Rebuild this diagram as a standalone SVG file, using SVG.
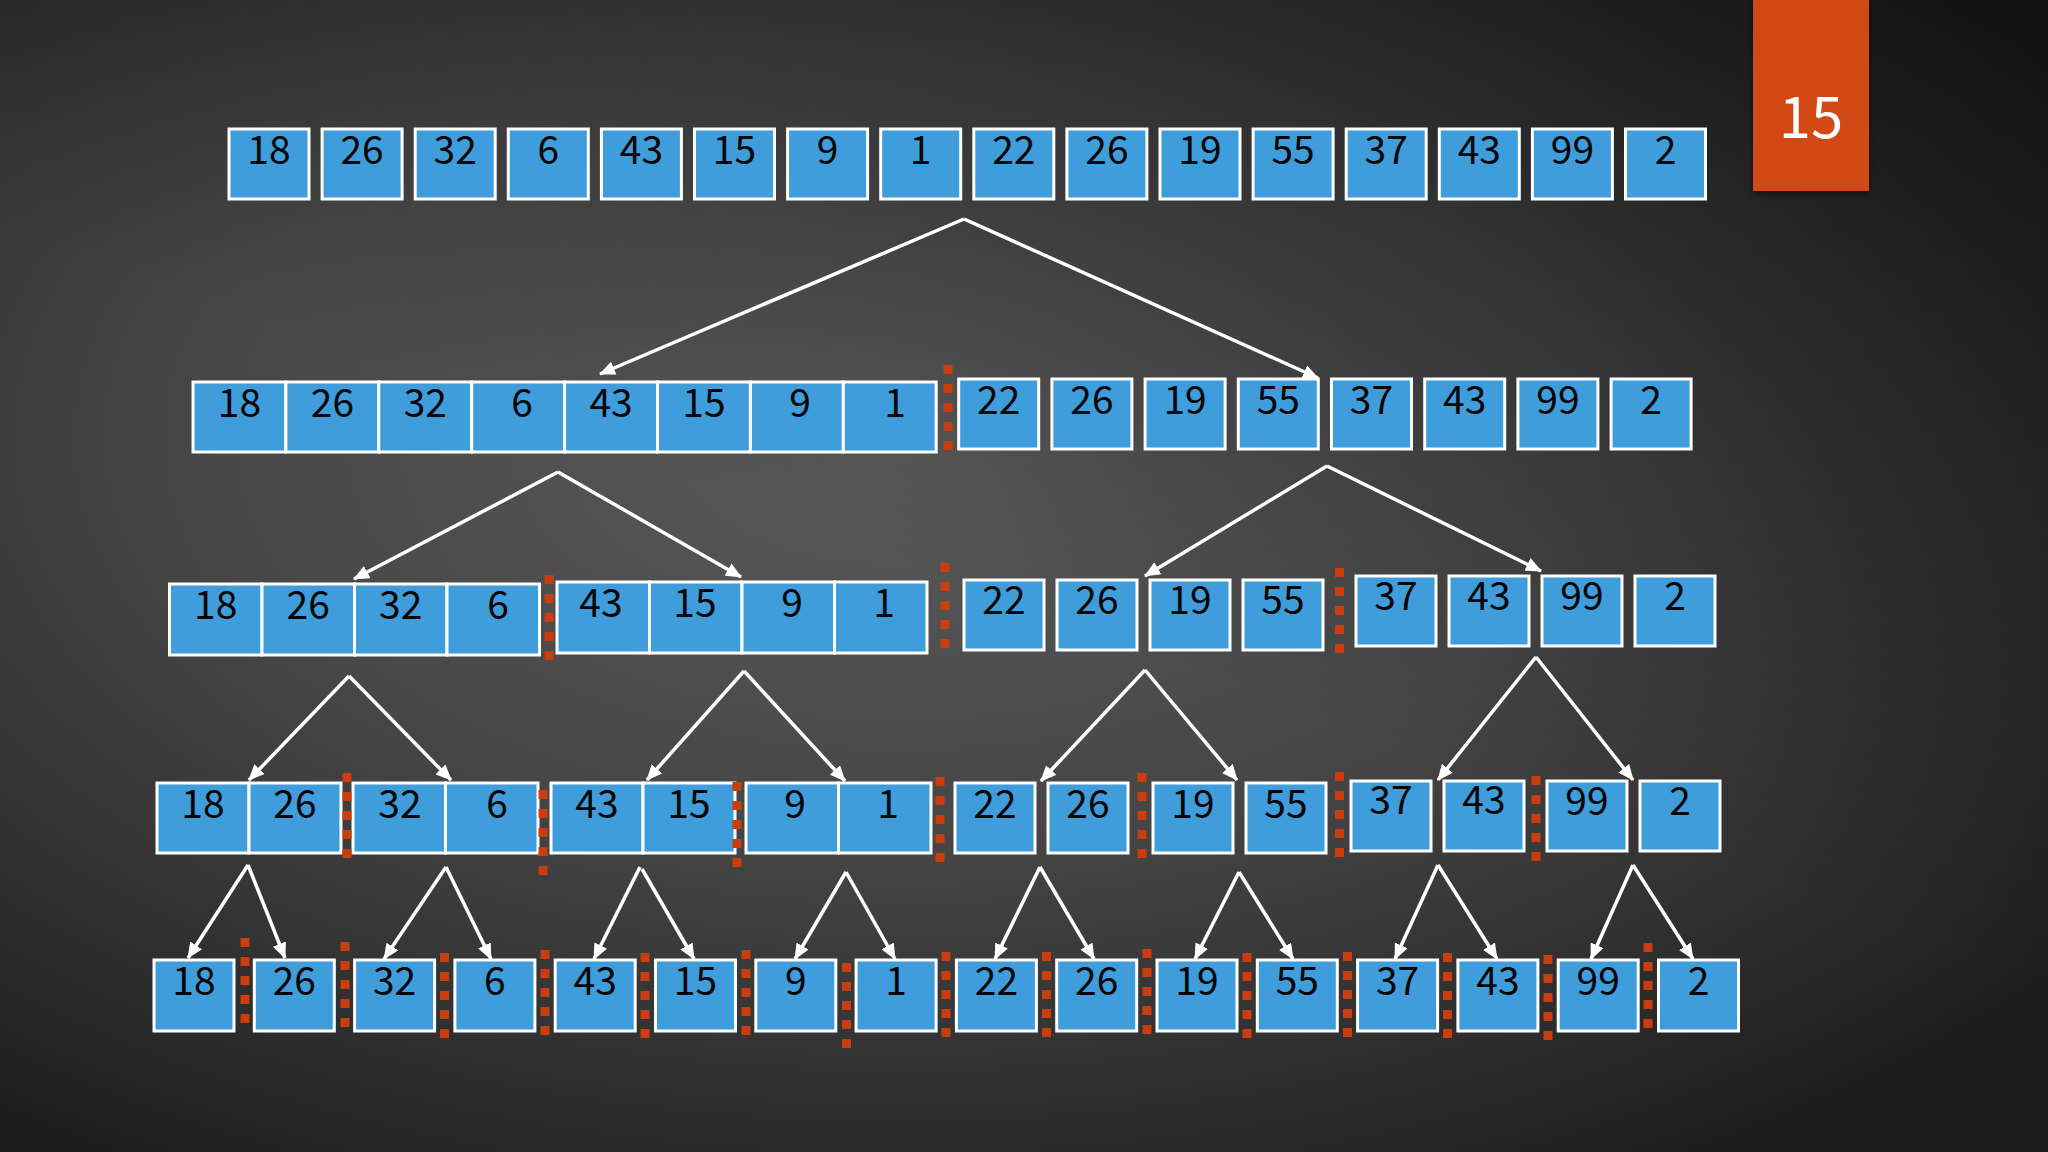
<svg xmlns="http://www.w3.org/2000/svg" width="2048" height="1152" viewBox="0 0 2048 1152">
<defs>
<radialGradient id="bg" cx="0.44" cy="0.38" r="0.75">
<stop offset="0" stop-color="#5b5a5a"/>
<stop offset="0.45" stop-color="#474747"/>
<stop offset="0.8" stop-color="#2c2c2c"/>
<stop offset="1" stop-color="#1b1b1b"/>
</radialGradient>
<linearGradient id="tr" x1="0.6" y1="0.6" x2="1" y2="0">
<stop offset="0" stop-color="#000" stop-opacity="0"/>
<stop offset="1" stop-color="#000" stop-opacity="0.55"/>
</linearGradient>
<marker id="ah" viewBox="0 0 16 14" refX="15" refY="7" markerWidth="16" markerHeight="14" markerUnits="userSpaceOnUse" orient="auto">
<path d="M0,0 L16,7 L0,14 Z" fill="#ffffff"/>
</marker>
<filter id="sh" x="-10%" y="-10%" width="120%" height="120%">
<feDropShadow dx="0" dy="3" stdDeviation="3" flood-color="#000" flood-opacity="0.5"/>
</filter>
</defs>
<style>
.b{fill:#3f9ddc;stroke:#ffffff;stroke-width:3}
.t{font-family:"Noto Sans CJK SC","Noto Sans","Liberation Sans",sans-serif;font-size:39px;fill:#050505;text-anchor:middle}
.a{stroke:#ffffff;stroke-width:3.5;fill:none;marker-end:url(#ah)}
.s{stroke:#c93d0f;stroke-width:9;stroke-dasharray:9 10}
</style>
<rect width="2048" height="1152" fill="url(#bg)"/>
<rect width="2048" height="1152" fill="url(#tr)"/>

<g id="slide-number">
<rect x="1753" y="0" width="116" height="191" fill="#d24a19" filter="url(#sh)"/>
<text x="1811" y="138" font-family="'Noto Sans CJK SC','Noto Sans','Liberation Sans',sans-serif" font-size="58" fill="#ffffff" text-anchor="middle">15</text>
</g>

<!-- Row 1 -->
<g id="r1-0"><rect class="b" x="229" y="129" width="80" height="70"/><text class="t" x="269" y="164">18</text></g>
<g id="r1-1"><rect class="b" x="322.1" y="129" width="80" height="70"/><text class="t" x="362.1" y="164">26</text></g>
<g id="r1-2"><rect class="b" x="415.2" y="129" width="80" height="70"/><text class="t" x="455.2" y="164">32</text></g>
<g id="r1-3"><rect class="b" x="508.3" y="129" width="80" height="70"/><text class="t" x="548.3" y="164">6</text></g>
<g id="r1-4"><rect class="b" x="601.4" y="129" width="80" height="70"/><text class="t" x="641.4" y="164">43</text></g>
<g id="r1-5"><rect class="b" x="694.5" y="129" width="80" height="70"/><text class="t" x="734.5" y="164">15</text></g>
<g id="r1-6"><rect class="b" x="787.6" y="129" width="80" height="70"/><text class="t" x="827.6" y="164">9</text></g>
<g id="r1-7"><rect class="b" x="880.7" y="129" width="80" height="70"/><text class="t" x="920.7" y="164">1</text></g>
<g id="r1-8"><rect class="b" x="973.8" y="129" width="80" height="70"/><text class="t" x="1013.8" y="164">22</text></g>
<g id="r1-9"><rect class="b" x="1066.9" y="129" width="80" height="70"/><text class="t" x="1106.9" y="164">26</text></g>
<g id="r1-10"><rect class="b" x="1160" y="129" width="80" height="70"/><text class="t" x="1200" y="164">19</text></g>
<g id="r1-11"><rect class="b" x="1253.1" y="129" width="80" height="70"/><text class="t" x="1293.1" y="164">55</text></g>
<g id="r1-12"><rect class="b" x="1346.2" y="129" width="80" height="70"/><text class="t" x="1386.2" y="164">37</text></g>
<g id="r1-13"><rect class="b" x="1439.3" y="129" width="80" height="70"/><text class="t" x="1479.3" y="164">43</text></g>
<g id="r1-14"><rect class="b" x="1532.4" y="129" width="80" height="70"/><text class="t" x="1572.4" y="164">99</text></g>
<g id="r1-15"><rect class="b" x="1625.5" y="129" width="80" height="70"/><text class="t" x="1665.5" y="164">2</text></g>

<!-- Row 2 -->
<g id="r2-0"><rect class="b" x="193" y="382" width="92.9" height="70"/><text class="t" x="239.5" y="417">18</text></g>
<g id="r2-1"><rect class="b" x="285.9" y="382" width="92.9" height="70"/><text class="t" x="332.4" y="417">26</text></g>
<g id="r2-2"><rect class="b" x="378.8" y="382" width="92.9" height="70"/><text class="t" x="425.3" y="417">32</text></g>
<g id="r2-3"><rect class="b" x="471.7" y="382" width="92.9" height="70"/><text class="t" x="522" y="417">6</text></g>
<g id="r2-4"><rect class="b" x="564.6" y="382" width="92.9" height="70"/><text class="t" x="611.1" y="417">43</text></g>
<g id="r2-5"><rect class="b" x="657.5" y="382" width="92.9" height="70"/><text class="t" x="704" y="417">15</text></g>
<g id="r2-6"><rect class="b" x="750.4" y="382" width="92.9" height="70"/><text class="t" x="800" y="417">9</text></g>
<g id="r2-7"><rect class="b" x="843.3" y="382" width="92.9" height="70"/><text class="t" x="895" y="417">1</text></g>
<g id="r2-8"><rect class="b" x="958.7" y="379" width="80" height="70"/><text class="t" x="998.7" y="414">22</text></g>
<g id="r2-9"><rect class="b" x="1051.9" y="379" width="80" height="70"/><text class="t" x="1091.9" y="414">26</text></g>
<g id="r2-10"><rect class="b" x="1145.1" y="379" width="80" height="70"/><text class="t" x="1185.1" y="414">19</text></g>
<g id="r2-11"><rect class="b" x="1238.3" y="379" width="80" height="70"/><text class="t" x="1278.3" y="414">55</text></g>
<g id="r2-12"><rect class="b" x="1331.5" y="379" width="80" height="70"/><text class="t" x="1371.5" y="414">37</text></g>
<g id="r2-13"><rect class="b" x="1424.7" y="379" width="80" height="70"/><text class="t" x="1464.7" y="414">43</text></g>
<g id="r2-14"><rect class="b" x="1517.9" y="379" width="80" height="70"/><text class="t" x="1557.9" y="414">99</text></g>
<g id="r2-15"><rect class="b" x="1611.1" y="379" width="80" height="70"/><text class="t" x="1651.1" y="414">2</text></g>

<!-- Row 3 -->
<g id="r3-0"><rect class="b" x="169.5" y="584" width="92.5" height="71"/><text class="t" x="215.7" y="619">18</text></g>
<g id="r3-1"><rect class="b" x="262" y="584" width="92.5" height="71"/><text class="t" x="308.2" y="619">26</text></g>
<g id="r3-2"><rect class="b" x="354.5" y="584" width="92.5" height="71"/><text class="t" x="400.7" y="619">32</text></g>
<g id="r3-3"><rect class="b" x="447" y="584" width="92.5" height="71"/><text class="t" x="498" y="619">6</text></g>
<g id="r3-4"><rect class="b" x="557" y="582" width="92.5" height="71"/><text class="t" x="601" y="617">43</text></g>
<g id="r3-5"><rect class="b" x="649.5" y="582" width="92.5" height="71"/><text class="t" x="695" y="617">15</text></g>
<g id="r3-6"><rect class="b" x="742" y="582" width="92.5" height="71"/><text class="t" x="792" y="617">9</text></g>
<g id="r3-7"><rect class="b" x="834.5" y="582" width="92.5" height="71"/><text class="t" x="884" y="617">1</text></g>
<g id="r3-8"><rect class="b" x="964" y="580" width="80" height="70"/><text class="t" x="1004" y="614">22</text></g>
<g id="r3-9"><rect class="b" x="1057" y="580" width="80" height="70"/><text class="t" x="1097" y="614">26</text></g>
<g id="r3-10"><rect class="b" x="1150" y="580" width="80" height="70"/><text class="t" x="1190" y="614">19</text></g>
<g id="r3-11"><rect class="b" x="1243" y="580" width="80" height="70"/><text class="t" x="1283" y="614">55</text></g>
<g id="r3-12"><rect class="b" x="1356" y="576" width="80" height="70"/><text class="t" x="1396" y="610">37</text></g>
<g id="r3-13"><rect class="b" x="1449" y="576" width="80" height="70"/><text class="t" x="1489" y="610">43</text></g>
<g id="r3-14"><rect class="b" x="1542" y="576" width="80" height="70"/><text class="t" x="1582" y="610">99</text></g>
<g id="r3-15"><rect class="b" x="1635" y="576" width="80" height="70"/><text class="t" x="1675" y="610">2</text></g>

<!-- Row 4 -->
<g id="r4-0"><rect class="b" x="157" y="783" width="92" height="70"/><text class="t" x="203" y="818">18</text></g>
<g id="r4-1"><rect class="b" x="249" y="783" width="92" height="70"/><text class="t" x="295" y="818">26</text></g>
<g id="r4-2"><rect class="b" x="353" y="783" width="92.5" height="70"/><text class="t" x="400" y="818">32</text></g>
<g id="r4-3"><rect class="b" x="445.5" y="783" width="92.5" height="70"/><text class="t" x="497" y="818">6</text></g>
<g id="r4-4"><rect class="b" x="551" y="783" width="92" height="70"/><text class="t" x="597" y="818">43</text></g>
<g id="r4-5"><rect class="b" x="643" y="783" width="92" height="70"/><text class="t" x="689" y="818">15</text></g>
<g id="r4-6"><rect class="b" x="746" y="783" width="92.5" height="70"/><text class="t" x="795" y="818">9</text></g>
<g id="r4-7"><rect class="b" x="838.5" y="783" width="92.5" height="70"/><text class="t" x="888" y="818">1</text></g>
<g id="r4-8"><rect class="b" x="955" y="783" width="80" height="70"/><text class="t" x="995" y="818">22</text></g>
<g id="r4-9"><rect class="b" x="1048" y="783" width="80" height="70"/><text class="t" x="1088" y="818">26</text></g>
<g id="r4-10"><rect class="b" x="1153" y="783" width="80" height="70"/><text class="t" x="1193" y="818">19</text></g>
<g id="r4-11"><rect class="b" x="1246" y="783" width="80" height="70"/><text class="t" x="1286" y="818">55</text></g>
<g id="r4-12"><rect class="b" x="1351" y="781" width="80" height="70"/><text class="t" x="1391" y="814">37</text></g>
<g id="r4-13"><rect class="b" x="1444" y="781" width="80" height="70"/><text class="t" x="1484" y="814">43</text></g>
<g id="r4-14"><rect class="b" x="1547" y="781" width="80" height="70"/><text class="t" x="1587" y="815">99</text></g>
<g id="r4-15"><rect class="b" x="1640" y="781" width="80" height="70"/><text class="t" x="1680" y="815">2</text></g>

<!-- Row 5 -->
<g id="r5-0"><rect class="b" x="154" y="960" width="80" height="71"/><text class="t" x="194" y="995">18</text></g>
<g id="r5-1"><rect class="b" x="254.3" y="960" width="80" height="71"/><text class="t" x="294.3" y="995">26</text></g>
<g id="r5-2"><rect class="b" x="354.6" y="960" width="80" height="71"/><text class="t" x="394.6" y="995">32</text></g>
<g id="r5-3"><rect class="b" x="454.9" y="960" width="80" height="71"/><text class="t" x="494.9" y="995">6</text></g>
<g id="r5-4"><rect class="b" x="555.2" y="960" width="80" height="71"/><text class="t" x="595.2" y="995">43</text></g>
<g id="r5-5"><rect class="b" x="655.5" y="960" width="80" height="71"/><text class="t" x="695.5" y="995">15</text></g>
<g id="r5-6"><rect class="b" x="755.8" y="960" width="80" height="71"/><text class="t" x="795.8" y="995">9</text></g>
<g id="r5-7"><rect class="b" x="856.1" y="960" width="80" height="71"/><text class="t" x="896.1" y="995">1</text></g>
<g id="r5-8"><rect class="b" x="956.4" y="960" width="80" height="71"/><text class="t" x="996.4" y="995">22</text></g>
<g id="r5-9"><rect class="b" x="1056.7" y="960" width="80" height="71"/><text class="t" x="1096.7" y="995">26</text></g>
<g id="r5-10"><rect class="b" x="1157" y="960" width="80" height="71"/><text class="t" x="1197" y="995">19</text></g>
<g id="r5-11"><rect class="b" x="1257.3" y="960" width="80" height="71"/><text class="t" x="1297.3" y="995">55</text></g>
<g id="r5-12"><rect class="b" x="1357.6" y="960" width="80" height="71"/><text class="t" x="1397.6" y="995">37</text></g>
<g id="r5-13"><rect class="b" x="1457.9" y="960" width="80" height="71"/><text class="t" x="1497.9" y="995">43</text></g>
<g id="r5-14"><rect class="b" x="1558.2" y="960" width="80" height="71"/><text class="t" x="1598.2" y="995">99</text></g>
<g id="r5-15"><rect class="b" x="1658.5" y="960" width="80" height="71"/><text class="t" x="1698.5" y="995">2</text></g>

<!-- Split markers -->
<g id="splits">
<line class="s" x1="948" y1="365" x2="948" y2="452"/>
<line class="s" x1="549" y1="575" x2="549" y2="662"/>
<line class="s" x1="945" y1="563" x2="945" y2="650"/>
<line class="s" x1="1339.5" y1="568" x2="1339.5" y2="657"/>
<line class="s" x1="347" y1="773" x2="347" y2="859"/>
<line class="s" x1="543" y1="790" x2="543" y2="877"/>
<line class="s" x1="737" y1="782" x2="737" y2="869"/>
<line class="s" x1="940" y1="777" x2="940" y2="862"/>
<line class="s" x1="1142" y1="773" x2="1142" y2="859"/>
<line class="s" x1="1339.5" y1="772" x2="1339.5" y2="857"/>
<line class="s" x1="1536" y1="776" x2="1536" y2="862"/>
<line class="s" x1="245" y1="938" x2="245" y2="1029"/>
<line class="s" x1="345" y1="942" x2="345" y2="1029"/>
<line class="s" x1="444.5" y1="953" x2="444.5" y2="1042"/>
<line class="s" x1="545" y1="950" x2="545" y2="1037"/>
<line class="s" x1="645" y1="953" x2="645" y2="1042"/>
<line class="s" x1="746" y1="950" x2="746" y2="1038"/>
<line class="s" x1="846.5" y1="963" x2="846.5" y2="1052"/>
<line class="s" x1="946" y1="952" x2="946" y2="1039"/>
<line class="s" x1="1046.5" y1="952" x2="1046.5" y2="1039"/>
<line class="s" x1="1147" y1="949" x2="1147" y2="1037"/>
<line class="s" x1="1247" y1="953" x2="1247" y2="1040"/>
<line class="s" x1="1347.5" y1="952" x2="1347.5" y2="1039"/>
<line class="s" x1="1447.5" y1="953" x2="1447.5" y2="1039"/>
<line class="s" x1="1548" y1="955" x2="1548" y2="1042"/>
<line class="s" x1="1648" y1="943" x2="1648" y2="1031"/>
</g>

<!-- Connectors -->
<g id="connectors">
<path class="a" d="M964,219 L600,374"/>
<path class="a" d="M964,219 L1318,378"/>
<path class="a" d="M558,472 L354,579"/>
<path class="a" d="M558,472 L741,577"/>
<path class="a" d="M1327,466 L1145,576"/>
<path class="a" d="M1327,466 L1541,571"/>
<path class="a" d="M349,676 L249,780"/>
<path class="a" d="M349,676 L451,780"/>
<path class="a" d="M744,671 L647,780"/>
<path class="a" d="M744,671 L845,781"/>
<path class="a" d="M1145,670 L1041,781"/>
<path class="a" d="M1145,670 L1237,780"/>
<path class="a" d="M1536,657 L1438,780"/>
<path class="a" d="M1536,657 L1633,780"/>
<path class="a" d="M248,865 L188,958"/>
<path class="a" d="M248,865 L285,958"/>
<path class="a" d="M446,867 L384,959"/>
<path class="a" d="M446,867 L491,959"/>
<path class="a" d="M640,867 L594,959"/>
<path class="a" d="M642,869 L694,959"/>
<path class="a" d="M846,872 L795,959"/>
<path class="a" d="M846,872 L895,959"/>
<path class="a" d="M1040,867 L995,959"/>
<path class="a" d="M1040,867 L1094,959"/>
<path class="a" d="M1239,872 L1195,959"/>
<path class="a" d="M1239,872 L1293,959"/>
<path class="a" d="M1438,865 L1395,959"/>
<path class="a" d="M1438,865 L1497,959"/>
<path class="a" d="M1633,865 L1591,959"/>
<path class="a" d="M1633,865 L1693,959"/>
</g>
</svg>
